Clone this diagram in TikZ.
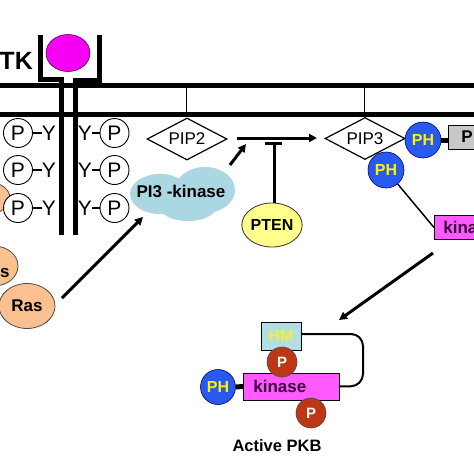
\documentclass[tikz,border=0pt]{standalone}
\usepackage{fontspec}
\setmainfont{Liberation Sans}
\usetikzlibrary{arrows.meta,shapes.geometric}
\definecolor{phblue}{RGB}{40,90,240}
\definecolor{pred}{RGB}{190,55,20}
\definecolor{kinpink}{RGB}{255,90,255}
\definecolor{kintext}{RGB}{60,0,60}
\definecolor{hmblue}{RGB}{180,222,230}
\definecolor{hmyel}{RGB}{240,240,60}
\definecolor{cloud}{RGB}{170,215,225}
\definecolor{ptenyel}{RGB}{255,255,140}
\definecolor{orng}{RGB}{250,192,144}
\definecolor{gbox}{RGB}{200,200,200}
\definecolor{rmag}{RGB}{245,0,245}
\begin{document}
\begin{tikzpicture}[x=1pt,y=-1pt,
  bigarrow/.style={line width=3pt,-{Triangle[length=8pt,width=8pt]}},
  recline/.style={line width=5pt,miter limit=4},
  memline/.style={line width=5pt},
  phcirc/.style={circle,draw=blue!40!black,line width=0.6pt,fill=phblue,minimum size=36pt,inner sep=0pt,text=yellow,font=\fontsize{16}{18}\selectfont\bfseries},
  pcirc/.style={circle,draw=black,fill=white,line width=0.9pt,minimum size=29pt,inner sep=0pt,font=\fontsize{21}{24}\selectfont},
  yletter/.style={inner sep=0pt,font=\fontsize{21}{24}\selectfont},
  redp/.style={circle,draw=black!70,line width=0.6pt,fill=pred,minimum size=30pt,inner sep=0pt,text=white,font=\fontsize{15}{17}\selectfont\bfseries},
  pip/.style={diamond,draw=black,line width=1.2pt,fill=white,minimum width=80pt,minimum height=42pt,aspect=2,inner sep=0pt,font=\fontsize{17}{19}\selectfont},
  orange/.style={ellipse,draw=black!70,line width=0.8pt,fill=orng,inner sep=0pt,font=\fontsize{17}{19}\selectfont\bfseries},
  kinbox/.style={rectangle,draw=black,line width=0.8pt,fill=kinpink,text=kintext,align=left,font=\fontsize{17}{19}\selectfont\bfseries},
  lbl/.style={font=\fontsize{17}{19}\selectfont\bfseries,inner sep=0pt}
]
\useasboundingbox (0,0) rectangle (474,474);
\clip (0,0) rectangle (474,474);
\fill[white] (0,0) rectangle (474,474);

% membrane
\draw[memline] (0,85.5) -- (474,85.5);
\draw[memline] (0,114.5) -- (474,114.5);
\draw[line width=0.8pt] (186,86) -- (186,114);
\draw[line width=0.8pt] (364,86) -- (364,114);

% receptor
\node[lbl,anchor=east,font=\fontsize{25}{28}\selectfont\bfseries] (tk) at (33,61) {TK};
\node[ellipse,draw=violet!70!black,line width=0.6pt,fill=rmag,minimum width=44pt,minimum height=37pt,inner sep=0pt] (lig) at (68,53) {};
\draw[recline] (40,35) -- (40,79) -- (61,79) -- (61,235);
\draw[recline] (99,35) -- (99,80) -- (75,80) -- (75,235);

% orange adaptors
\node[orange,minimum width=44pt,minimum height=32pt] (o1) at (-12,198) {};
\node[orange,minimum width=48pt,minimum height=40pt] (sos) at (-6,266) {};
\node[lbl,anchor=west] (sostxt) at (0,273) {s};
\node[orange,minimum width=56pt,minimum height=45pt] (ras) at (27,306) {Ras};

% phospho-tyrosines
\foreach \yy [count=\i] in {133,170,208} {
  \node[pcirc] (pl\i) at (18,\yy) {P};
  \node[yletter] (yl\i) at (49,\yy) {Y};
  \draw[line width=2pt] (pl\i.east) -- (yl\i.west);
  \node[yletter] (yr\i) at (85,\yy) {Y};
  \node[pcirc] (pr\i) at (114.5,\yy) {P};
  \draw[line width=2pt] (yr\i.east) -- (pr\i.west);
}

% PI3-kinase cloud
\fill[cloud] (160,194) ellipse [x radius=30, y radius=20];
\fill[cloud] (205,190) ellipse [x radius=30, y radius=23];
\fill[cloud] (188,207) ellipse [x radius=28, y radius=14];
\node[lbl] (pi3) at (181,191) {PI3 -kinase};

\coordinate (rasout) at (62,298);
\coordinate (pi3in) at (143,217);
\draw[bigarrow] (rasout) -- (pi3in);

% PIP2 -> PIP3
\node[pip] (pip2) at (187,139) {PIP2};
\node[pip] (pip3) at (365,138.5) {PIP3};
\coordinate (convs) at (237,138);
\coordinate (conve) at (317,138);
\draw[bigarrow] (convs) -- (conve);
\coordinate (pi3out) at (230,165);
\coordinate (pi3tip) at (246,144);
\draw[bigarrow] (pi3out) -- (pi3tip);

% PTEN
\node[ellipse,draw=black!80,line width=0.8pt,fill=ptenyel,minimum width=58pt,minimum height=44pt,inner sep=0pt,font=\fontsize{16}{18}\selectfont\bfseries] (pten) at (272,225) {PTEN};
\coordinate (tbar) at (274,143);
\draw[line width=3pt] (pten.north -| tbar) -- (tbar);
\coordinate (tbl) at (265,143);
\coordinate (tbr) at (282,143);
\draw[line width=3pt] (tbl) -- (tbr);

% inactive PKB at membrane
\node[phcirc] (ph1) at (423,140) {PH};
\node[rectangle,draw=black,line width=0.8pt,fill=gbox,anchor=west,minimum height=24pt,inner xsep=13pt,text width=24pt,align=left,font=\fontsize{17}{19}\selectfont\bfseries] (gb) at (448,137) {P};
\draw[line width=5pt] (ph1.east) -- (gb.west |- ph1.east);
\node[phcirc] (ph2) at (386,170) {PH};
\node[kinbox,anchor=west,minimum height=24pt,inner xsep=9pt,text width=40pt] (kinr) at (434,227.5) {kina};
\draw[line width=1.5pt] (ph2) -- (kinr.west);

\coordinate (act1) at (433,253);
\coordinate (act2) at (339,320);
\draw[bigarrow] (act1) -- (act2);

% active PKB
\node[rectangle,draw=black,line width=0.8pt,fill=hmblue,minimum width=40pt,minimum height=28pt,inner sep=0pt,text=hmyel,font=\fontsize{16}{18}\selectfont\bfseries] (hm) at (281,336) {HM};
\node[kinbox,anchor=west,minimum height=27pt,inner xsep=10pt,text width=76pt] (kin) at (243,386.5) {kinase};
\node[phcirc,minimum size=35pt] (ph3) at (218,387) {PH};
\draw[line width=5pt] (ph3.east) -- (kin.west);
\node[redp] (p1) at (282,362) {P};
\node[redp] (p2) at (311,413) {P};
\draw[line width=2pt,rounded corners=12pt] (hm.east |- 0,334) -- (363,334) -- (363,386) -- (kin.east);
\node[lbl,font=\fontsize{16.5}{19}\selectfont\bfseries] (active) at (277,446) {Active PKB};
\end{tikzpicture}
\end{document}
